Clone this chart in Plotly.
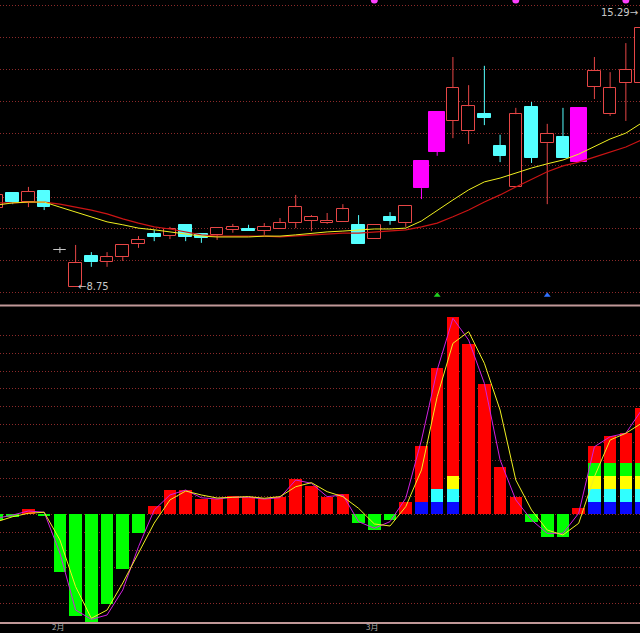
import plotly.graph_objects as go

# ---------------- data ----------------
idx = list(range(42))
opens = [10.63, 10.99, 10.77, 11.03, 9.63, 8.75, 9.49, 9.34, 9.46, 9.77,
         10.01, 9.96, 10.23, 10.01, 9.99, 10.11, 10.13, 10.08, 10.13, 10.27,
         10.32, 10.27, 10.30, 10.23, 9.89, 10.42, 10.27, 11.10, 11.96, 12.70,
         12.46, 12.86, 12.10, 11.13, 13.03, 12.17, 12.32, 11.72, 13.51, 12.86,
         13.60, 13.60]
closes = [10.94, 10.77, 11.01, 10.65, 9.64, 9.32, 9.34, 9.46, 9.75, 9.87,
          9.94, 10.13, 9.94, 9.92, 10.15, 10.18, 10.08, 10.18, 10.27, 10.65,
          10.42, 10.32, 10.60, 9.77, 10.23, 10.32, 10.68, 11.75, 12.91, 13.48,
          13.05, 12.77, 11.87, 12.86, 11.82, 12.39, 11.82, 13.01, 13.89, 13.48,
          13.91, 14.91]
highs = [10.96, 10.99, 11.13, 11.03, 9.70, 9.75, 9.58, 9.58, 9.75, 9.96,
         10.11, 10.18, 10.23, 10.01, 10.15, 10.25, 10.23, 10.27, 10.39, 10.94,
         10.46, 10.51, 10.72, 10.46, 10.23, 10.53, 10.68, 11.75, 12.91, 14.22,
         13.55, 14.01, 12.37, 13.01, 13.15, 12.63, 13.01, 13.01, 14.22, 13.86,
         14.55, 15.29]
lows = [10.60, 10.72, 10.65, 10.58, 9.56, 8.75, 9.23, 9.23, 9.37, 9.68,
        9.84, 9.89, 9.84, 9.80, 9.87, 10.04, 10.08, 9.99, 10.13, 10.15,
        10.08, 10.25, 10.30, 9.77, 9.89, 10.23, 10.18, 10.84, 11.87, 12.29,
        12.15, 12.60, 11.72, 11.13, 11.70, 10.72, 11.82, 11.72, 13.22, 12.82,
        12.70, 13.55]
ctype = ['up', 'down', 'up', 'down', 'flat', 'up', 'down', 'up', 'up', 'up',
         'down', 'up', 'down', 'down', 'up', 'up', 'down', 'up', 'up', 'up',
         'up', 'up', 'up', 'down', 'up', 'down', 'up', 'mag', 'mag', 'up',
         'up', 'down', 'down', 'up', 'down', 'up', 'down', 'mag', 'up', 'up',
         'up', 'up']
ma_fast = [10.70, 10.75, 10.77, 10.77, 10.65, 10.53, 10.42, 10.30, 10.23, 10.15,
           10.11, 10.06, 10.01, 9.96, 9.94, 9.94, 9.94, 9.96, 9.96, 9.99,
           10.03, 10.06, 10.08, 10.11, 10.13, 10.13, 10.15, 10.32, 10.58, 10.82,
           11.06, 11.25, 11.34, 11.46, 11.58, 11.68, 11.77, 11.91, 12.10, 12.27,
           12.41, 12.65]
ma_slow = [10.75, 10.75, 10.77, 10.77, 10.72, 10.65, 10.58, 10.49, 10.37, 10.27,
           10.18, 10.13, 10.06, 9.99, 9.96, 9.96, 9.96, 9.96, 9.94, 9.96,
           9.99, 10.01, 10.03, 10.03, 10.06, 10.08, 10.11, 10.18, 10.27, 10.42,
           10.58, 10.77, 10.94, 11.13, 11.32, 11.49, 11.63, 11.72, 11.84, 11.96,
           12.08, 12.25]

hist = [-0.45, -0.2, 0.42, -0.1, -4.52, -7.98, -8.46, -7.06, -4.33, -1.50,
        0.65, 1.91, 1.91, 1.18, 1.18, 1.46, 1.39, 1.18, 1.39, 2.78,
        2.23, 1.39, 1.60, -0.66, -1.24, -0.45, 0.99, 5.40, 11.5, 15.5,
        13.4, 10.24, 3.70, 1.39, -0.58, -1.76, -1.76, 0.47, 5.40, 6.17,
        6.38, 8.35]
layers = [0] * 27 + [1, 2, 3] + [0] * 8 + [4, 4, 4, 4]
sig_fast = [-0.31, -0.06, 0.26, 0.16, -3.05, -7.54, -8.27, -7.93, -5.96, -2.55,
            0.34, 1.52, 1.91, 1.30, 1.20, 1.34, 1.34, 1.20, 1.31, 2.70,
            2.44, 1.39, 1.52, -0.58, -1.10, -0.58, 1.26, 5.85, 11.36, 15.43,
            13.72, 10.31, 4.28, 1.13, -0.45, -1.50, -1.50, 0.08, 5.32, 6.11,
            6.38, 8.21]
sig_slow = [-0.58, -0.19, 0.08, 0.16, -2.02, -5.70, -8.19, -7.54, -5.41, -3.05,
            -0.69, 1.13, 1.83, 1.52, 1.28, 1.34, 1.39, 1.26, 1.39, 2.17,
            2.49, 1.78, 1.39, 0.47, -0.76, -0.92, 0.60, 3.49, 9.26, 13.46,
            14.38, 11.89, 8.21, 2.70, 0.34, -1.24, -1.63, -0.71, 2.96, 5.85,
            6.38, 7.17]

top_dots = [24, 33, 40]
green_marks = [28]
blue_marks = [35]
month_pos = [4, 24]
month_text = ['2月', '3月']
low_idx = 5
high_idx = 41

# ---------------- layout constants ----------------
X_RANGE = [0.19, 40.9]
Y1_RANGE = [8.322, 15.5754]
Y2_RANGE = [-8.56, 16.40]
Y1_DOMAIN = [0.51817, 1.0]
Y2_DOMAIN = [0.015798, 0.516588]
GRID = '#8c2a2a'
GRID_DASH = '1px,2px'
SEP = '#c09898'
TXT = '#c8c8c8'

styles = {
    'up':   dict(fill='#000000', line='#e64646', width=0.8),
    'down': dict(fill='#54ffff', line='#54ffff', width=0.8),
    'mag':  dict(fill='#ff00ff', line='#ff00ff', width=1.0),
    'flat': dict(fill='#c8c8c8', line='#c8c8c8', width=0.8),
}

fig = go.Figure()

# candles: bodies + wicks (wicks drawn outside bodies only)
for kind, st in styles.items():
    ii = [i for i in idx if ctype[i] == kind]
    if not ii:
        continue
    base = [min(opens[i], closes[i]) for i in ii]
    hgt = [abs(closes[i] - opens[i]) for i in ii]
    fig.add_trace(go.Bar(x=ii, y=hgt, base=base, width=st['width'],
                         marker=dict(color=st['fill'], line=dict(color=st['line'], width=1)),
                         xaxis='x', yaxis='y', hoverinfo='skip'))
    wx, wy = [], []
    for i in ii:
        top = max(opens[i], closes[i])
        bot = min(opens[i], closes[i])
        if highs[i] > top:
            wx += [i, i, None]
            wy += [top, highs[i], None]
        if lows[i] < bot:
            wx += [i, i, None]
            wy += [lows[i], bot, None]
    fig.add_trace(go.Scatter(x=wx, y=wy, mode='lines', line=dict(color=st['line'], width=1),
                             xaxis='x', yaxis='y', hoverinfo='skip'))

fig.add_trace(go.Scatter(x=idx, y=ma_slow, mode='lines', line=dict(color='#cc1414', width=1.2),
                         xaxis='x', yaxis='y'))
fig.add_trace(go.Scatter(x=idx, y=ma_fast, mode='lines', line=dict(color='#f0f020', width=1),
                         xaxis='x', yaxis='y'))

# signal markers
fig.add_trace(go.Scatter(x=top_dots, y=[Y1_RANGE[1]] * len(top_dots), mode='markers',
                         marker=dict(color='#ff40ff', size=7), xaxis='x', yaxis='y'))
fig.add_trace(go.Scatter(x=green_marks, y=[Y1_RANGE[0] + 0.23] * len(green_marks), mode='markers',
                         marker=dict(color='#20d020', size=6, symbol='triangle-up'), xaxis='x', yaxis='y'))
fig.add_trace(go.Scatter(x=blue_marks, y=[Y1_RANGE[0] + 0.23] * len(blue_marks), mode='markers',
                         marker=dict(color='#3070ff', size=6, symbol='triangle-up'), xaxis='x', yaxis='y'))

# lower panel histogram
hcol = ['#ff0000' if v >= 0 else '#00ff00' for v in hist]
fig.add_trace(go.Bar(x=idx, y=hist, base=0, width=0.8, marker=dict(color=hcol, line=dict(width=0)),
                     xaxis='x2', yaxis='y2', hoverinfo='skip'))
layer_cols = ['#0a0aff', '#30ffff', '#ffff00', '#00ff00']
for k, col in enumerate(layer_cols):
    ii = [i for i in idx if layers[i] > k]
    fig.add_trace(go.Bar(x=ii, y=[1] * len(ii), base=[k] * len(ii), width=0.8,
                         marker=dict(color=col, line=dict(width=0)),
                         xaxis='x2', yaxis='y2', hoverinfo='skip'))

fig.add_trace(go.Scatter(x=idx, y=sig_fast, mode='lines', line=dict(color='#d020e0', width=1),
                         xaxis='x2', yaxis='y2'))
fig.add_trace(go.Scatter(x=idx, y=sig_slow, mode='lines', line=dict(color='#f0f020', width=1),
                         xaxis='x2', yaxis='y2'))

step2 = 1.4094
grid2 = [k * step2 for k in range(-5, 11)]

ann = [
    dict(x=low_idx, y=lows[low_idx], xref='x', yref='y', text='←%.2f' % lows[low_idx],
         showarrow=False, xanchor='left', yanchor='middle', yshift=1,
         font=dict(family='DejaVu Sans', size=10, color=TXT)),
    dict(x=1, y=highs[high_idx], xref='paper', yref='y', text='%.2f→' % highs[high_idx],
         showarrow=False, xanchor='right', yanchor='middle', xshift=0,
         font=dict(family='DejaVu Sans', size=10, color=TXT)),
]
for p, t in zip(month_pos, month_text):
    ann.append(dict(x=p, y=0, xref='x2', yref='paper', text=t, showarrow=False,
                    xanchor='center', yanchor='bottom', xshift=-2, borderpad=0,
                    font=dict(family='Noto Sans CJK SC', size=8, color='#b0b0b0')))

fig.update_layout(
    width=640, height=633, margin=dict(l=0, r=0, t=0, b=0),
    paper_bgcolor='#000000', plot_bgcolor='#000000',
    showlegend=False, barmode='overlay', bargap=0,
    xaxis=dict(domain=[0, 1], range=X_RANGE, anchor='y', visible=False),
    xaxis2=dict(domain=[0, 1], range=X_RANGE, anchor='y2', visible=False),
    yaxis=dict(domain=Y1_DOMAIN, range=Y1_RANGE, anchor='x', tickmode='linear',
               tick0=15.4565, dtick=0.761, showgrid=True, gridcolor=GRID, griddash=GRID_DASH,
               gridwidth=1, showticklabels=False, zeroline=False, showline=False, ticks=''),
    yaxis2=dict(domain=Y2_DOMAIN, range=Y2_RANGE, anchor='x2', tickmode='array',
                tickvals=grid2, showgrid=True, gridcolor=GRID, griddash=GRID_DASH,
                gridwidth=1, showticklabels=False, zeroline=False, showline=False, ticks=''),
    annotations=ann,
    shapes=[
        dict(type='line', xref='paper', yref='paper', x0=0, x1=1, y0=0.5174, y1=0.5174,
             line=dict(color=SEP, width=2)),
        dict(type='line', xref='paper', yref='paper', x0=0, x1=1, y0=0.0158, y1=0.0158,
             line=dict(color=SEP, width=2)),
    ],
)

fig.write_html('out.html', config={'displayModeBar': False},
               post_script="document.body.style.margin='0';document.body.style.background='#000';"
                           "document.body.style.overflow='hidden';")
